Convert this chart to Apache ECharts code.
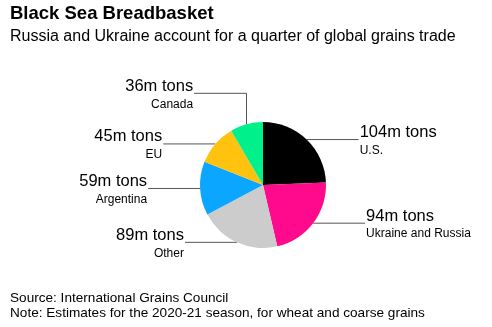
<!DOCTYPE html>
<html><head><meta charset="utf-8">
<script src="https://cdn.jsdelivr.net/npm/echarts@6/dist/echarts.min.js"></script>
<style>html,body{margin:0;padding:0;background:#fff}#c{width:492px;height:327px}</style>
</head><body><div id="c"></div>
<script>
const categories = ['U.S.', 'Ukraine and Russia', 'Other', 'Argentina', 'EU', 'Canada'];
const values = [104, 94, 89, 59, 45, 36];
const colors = ['#000000', '#ff0a8c', '#cccccc', '#0aa6ff', '#ffc20e', '#00f08c'];
const titleText = 'Black Sea Breadbasket';
const subtitleText = 'Russia and Ukraine account for a quarter of global grains trade';
const footnotes = ['Source: International Grains Council', 'Note: Estimates for the 2020-21 season, for wheat and coarse grains'];

const FONT = '"Liberation Sans", Arial, sans-serif';
const chart = echarts.init(document.getElementById('c'), null, {renderer: 'canvas'});
const data = categories.map((name, i) => {
  const d = {name: name, value: values[i], itemStyle: {color: colors[i]}};
  if (name === 'Canada') d.labelLine = {length: 32, length2: 44};
  return d;
});
chart.setOption({
  animation: false,
  title: [{
    text: titleText, left: 10, top: 3, padding: 0,
    textStyle: {fontFamily: FONT, fontWeight: 'bold', fontSize: 18.5, color: '#000', lineHeight: 22}
  }, {
    text: subtitleText, left: 10, top: 28, padding: 0,
    textStyle: {fontFamily: FONT, fontWeight: 'normal', fontSize: 16, color: '#000', lineHeight: 18}
  }, {
    text: footnotes.join('\n'), left: 10, top: 291, padding: 0,
    textStyle: {fontFamily: FONT, fontWeight: 'normal', fontSize: 13.6, color: '#000', lineHeight: 15}
  }],
  series: [{
    type: 'pie',
    center: [263, 185],
    radius: 63,
    startAngle: 90,
    clockwise: true,
    avoidLabelOverlap: false,
    data: data,
    itemStyle: {borderWidth: 0},
    emphasis: {disabled: true},
    label: {
      position: 'outside', alignTo: 'none', distanceToLabelLine: 1,
      formatter: '{v|{c}m tons}\n{n|{b}}',
      rich: {
        v: {fontFamily: FONT, fontSize: 16.5, color: '#000', lineHeight: 22},
        n: {fontFamily: FONT, fontSize: 12, color: '#000', lineHeight: 14}
      }
    },
    labelLine: {show: true, length: 0, length2: 52, smooth: false, lineStyle: {color: '#555', width: 1}},
    labelLayout: function (p) {
      const pts = p.labelLinePoints;
      if (pts && pts.length === 3) {
        return {labelLinePoints: [pts[0], [pts[0][0], pts[1][1]], pts[2]]};
      }
      return {};
    }
  }]
});
</script></body></html>
